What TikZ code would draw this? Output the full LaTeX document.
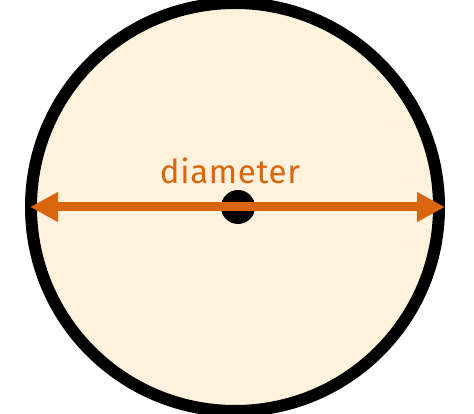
\documentclass[tikz,border=0pt]{standalone}
\usepackage{fontspec}
\setmainfont{Fira Sans}
\usetikzlibrary{arrows.meta}
\definecolor{cream}{HTML}{FEF2DD}
\definecolor{rust}{HTML}{D9650F}

\begin{document}
\begin{tikzpicture}[x=1pt,y=1pt]
  \useasboundingbox (0,0) rectangle (474,414);
  \clip (0,0) rectangle (474,414);

  % outer circle and centre point
  \node [circle, draw=black, line width=12pt, fill=cream, minimum size=408pt, inner sep=0](rim) at (235,207) {};
  \node [circle, fill=black, minimum size=34pt, inner sep=0](centre) at (238,207) {};

  \coordinate (left) at (30,207);
  \coordinate (right) at (445,207);

  \draw [rust, line width=9pt, {Triangle[length=28pt,width=28pt]}-{Triangle[length=28pt,width=28pt]}] (left) -- (right);

  \node [text=rust, font=\fontsize{33}{33}\selectfont\addfontfeature{LetterSpace=2}](label) at (230,243) {diameter};
\end{tikzpicture}
\end{document}
